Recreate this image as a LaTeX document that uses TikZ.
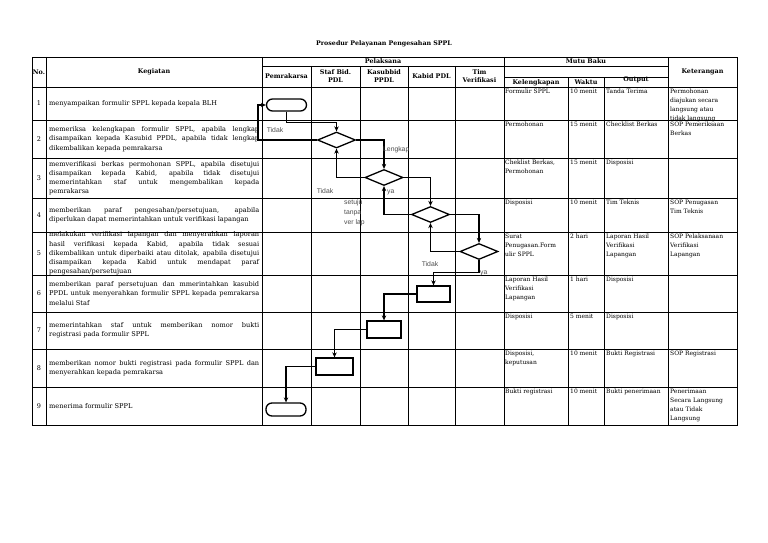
\documentclass[tikz,border=0pt]{standalone}
\usepackage{fontspec}
\setmainfont{DejaVu Serif}
\newfontfamily\flowfont{Liberation Sans}
\usetikzlibrary{positioning, arrows.meta, shapes.geometric}
\hyphenpenalty=10000
\exhyphenpenalty=10000
\tolerance=10000

\begin{document}
\begin{tikzpicture}[
  x=1pt, y=-1pt,
  grid/.style={line width=0.9pt},
  head/.style={font=\fontsize{6.4}{8}\selectfont\bfseries, align=center, inner sep=0pt},
  kegtext/.style={anchor=west, text width=210pt, align=justify, inner sep=0pt, font=\fontsize{6.6}{9.2}\selectfont},
  nomor/.style={font=\fontsize{6.5}{7}\selectfont, inner sep=0pt},
  cell/.style={anchor=north west, align=left, inner sep=0pt, font=\fontsize{6}{9.2}\selectfont},
  term/.style={draw, line width=1.3pt, rectangle, rounded corners=6pt, minimum width=40pt, minimum height=12pt, inner sep=0pt},
  decision/.style={draw, line width=1.3pt, diamond, minimum width=38pt, minimum height=16pt, inner sep=0pt},
  proc/.style={draw, line width=1.3pt, rectangle, minimum width=34pt, minimum height=17pt, inner sep=0pt},
  arrow/.style={-{Stealth[length=5pt, width=4.5pt]}, line width=1.2pt},
  flowlabel/.style={font=\flowfont\fontsize{6.8}{10}\selectfont, text=black!70, inner sep=0pt, align=left}
]
\useasboundingbox (0,0) rectangle (768,543);

% ===== TITLE =====
\node[font=\fontsize{6.3}{7}\selectfont\bfseries] (title) at (384,44) {Prosedur Pelayanan Pengesahan SPPL};

% ===== TABLE GRID =====
% Outer frame
\draw[grid] (32,57) rectangle (737,425);
% Header sub lines
\draw[grid] (262,66) -- (668,66);
\draw[grid] (504,77) -- (668,77);
% Row lines
\draw[grid] (32,87) -- (737,87) (32,120) -- (737,120) (32,158) -- (737,158)
  (32,198) -- (737,198) (32,232) -- (737,232) (32,275) -- (737,275)
  (32,312) -- (737,312) (32,349) -- (737,349) (32,387) -- (737,387);
% Column lines
\draw[grid] (46,57) -- (46,425) (262,57) -- (262,425) (504,57) -- (504,425) (668,57) -- (668,425);
\draw[grid] (311,66) -- (311,425) (360,66) -- (360,425) (408,66) -- (408,425) (455,66) -- (455,425);
\draw[grid] (568,77) -- (568,425) (604,77) -- (604,425);

% ===== HEADER =====
\node[head] (hno) at (39,72) {No.};
\node[head] (hkeg) at (154,72) {Kegiatan};
\node[head] (hpel) at (383,61.5) {Pelaksana};
\node[head] (hpem) at (286.5,76.5) {Pemrakarsa};
\node[head] (hstaf) at (335.5,76.5) {Staf Bid.\\PDL};
\node[head] (hkas) at (384,76.5) {Kasubbid\\PPDL};
\node[head] (hkab) at (431.5,76.5) {Kabid PDL};
\node[head] (htim) at (479.5,76.5) {Tim\\Verifikasi};
\node[head] (hmutu) at (586,61.5) {Mutu Baku};
\node[head] (hkel) at (536,82.5) {Kelengkapan};
\node[head] (hwak) at (586,82.5) {Waktu};
\node[head] (hout) at (636,80) {Output};
\node[head] (hket) at (702.5,72) {Keterangan};

% ===== NO. AND KEGIATAN =====
\node[nomor] (no1) at (39,103.5) {1};
\node[nomor] (no2) at (39,139) {2};
\node[nomor] (no3) at (39,178) {3};
\node[nomor] (no4) at (39,215) {4};
\node[nomor] (no5) at (39,253.5) {5};
\node[nomor] (no6) at (39,293.5) {6};
\node[nomor] (no7) at (39,330.5) {7};
\node[nomor] (no8) at (39,368) {8};
\node[nomor] (no9) at (39,406) {9};

\node[kegtext] (keg1) at (49,103.5) {menyampaikan formulir SPPL kepada kepala BLH};
\node[kegtext] (keg2) at (49,139) {memeriksa kelengkapan formulir SPPL, apabila lengkap\linebreak disampaikan kepada Kasubid PPDL, apabila tidak lengkap\linebreak dikembalikan kepada pemrakarsa};
\node[kegtext] (keg3) at (49,178) {memverifikasi berkas permohonan SPPL, apabila disetujui\linebreak disampaikan kepada Kabid, apabila tidak disetujui\linebreak memerintahkan staf untuk mengembalikan kepada\linebreak pemrakarsa};
\node[kegtext] (keg4) at (49,215) {memberikan paraf pengesahan/persetujuan, apabila\linebreak diperlukan dapat memerintahkan untuk verifikasi lapangan};
\node[kegtext] (keg5) at (49,253.5) {melakukan verifikasi lapangan dan menyerahkan laporan\linebreak hasil verifikasi kepada Kabid, apabila tidak sesuai\linebreak dikembalikan untuk diperbaiki atau ditolak, apabila disetujui\linebreak disampaikan kepada Kabid untuk mendapat paraf\linebreak pengesahan/persetujuan};
\node[kegtext] (keg6) at (49,293.5) {memberikan paraf persetujuan dan mmerintahkan kasubid\linebreak PPDL untuk menyerahkan formulir SPPL kepada pemrakarsa\linebreak melalui Staf};
\node[kegtext] (keg7) at (49,330.5) {memerintahkan staf untuk memberikan nomor bukti\linebreak registrasi pada formulir SPPL};
\node[kegtext] (keg8) at (49,368) {memberikan nomor bukti registrasi pada formulir SPPL dan\linebreak menyerahkan kepada pemrakarsa};
\node[kegtext] (keg9) at (49,406) {menerima formulir SPPL};

% ===== MUTU BAKU AND KETERANGAN =====
% Row 1
\node[cell] (kel1) at (505,88.5) {Formulir SPPL};
\node[cell] (wak1) at (570,88.5) {10 menit};
\node[cell] (out1) at (606,88.5) {Tanda Terima};
\node[cell] (ket1) at (670,88.5) {Permohonan\\diajukan secara\\langsung atau\\tidak langsung};
% Row 2
\node[cell] (kel2) at (505,121.5) {Permohonan};
\node[cell] (wak2) at (570,121.5) {15 menit};
\node[cell] (out2) at (606,121.5) {Checklist Berkas};
\node[cell] (ket2) at (670,121.5) {SOP Pemeriksaan\\Berkas};
% Row 3
\node[cell] (kel3) at (505,159.5) {Cheklist Berkas,\\Permohonan};
\node[cell] (wak3) at (570,159.5) {15 menit};
\node[cell] (out3) at (606,159.5) {Disposisi};
% Row 4
\node[cell] (kel4) at (505,199.5) {Disposisi};
\node[cell] (wak4) at (570,199.5) {10 menit};
\node[cell] (out4) at (606,199.5) {Tim Teknis};
\node[cell] (ket4) at (670,199.5) {SOP Penugasan\\Tim Teknis};
% Row 5
\node[cell] (kel5) at (505,233.5) {Surat\\Penugasan.Form\\ulir SPPL};
\node[cell] (wak5) at (570,233.5) {2 hari};
\node[cell] (out5) at (606,233.5) {Laporan Hasil\\Verifikasi\\Lapangan};
\node[cell] (ket5) at (670,233.5) {SOP Pelaksanaan\\Verifikasi\\Lapangan};
% Row 6
\node[cell] (kel6) at (505,276.5) {Laporan Hasil\\Verifikasi\\Lapangan};
\node[cell] (wak6) at (570,276.5) {1 hari};
\node[cell] (out6) at (606,276.5) {Disposisi};
% Row 7
\node[cell] (kel7) at (505,313.5) {Disposisi};
\node[cell] (wak7) at (570,313.5) {5 menit};
\node[cell] (out7) at (606,313.5) {Disposisi};
% Row 8
\node[cell] (kel8) at (505,350.5) {Disposisi,\\keputusan};
\node[cell] (wak8) at (570,350.5) {10 menit};
\node[cell] (out8) at (606,350.5) {Bukti Registrasi};
\node[cell] (ket8) at (670,350.5) {SOP Registrasi};
% Row 9
\node[cell] (kel9) at (505,388.5) {Bukti registrasi};
\node[cell] (wak9) at (570,388.5) {10 menit};
\node[cell] (out9) at (606,388.5) {Bukti penerimaan};
\node[cell] (ket9) at (670,388.5) {Penerimaan\\Secara Langsung\\atau Tidak\\Langsung};

% ===== FLOW SYMBOLS =====
\node[term] (start) at (286.5,105) {};
\node[decision] (cek) at (336.5,140) {};
\node[decision] (verif) at (384,177.5) {};
\node[decision] (paraf) at (430.5,214.5) {};
\node[decision] (lap) at (479,251.5) {};
\node[proc, minimum width=33pt, minimum height=16pt] (setuju) at (433.5,294) {};
\node[proc] (perintah) at (384,329.5) {};
\node[proc, minimum width=37pt] (noreg) at (334.5,366.5) {};
\node[term, minimum height=13pt] (terima) at (286,409.5) {};
\coordinate (balik) at (258,140);

% ===== CONNECTORS =====
\draw[arrow] (start.south) -- ++(0,11) -| (cek.north);
\draw[arrow] (cek.west) -- (balik) |- (start.west);
\draw[arrow] (cek.east) -| (verif.north);
\draw[arrow] (verif.west) -| (cek.south);
\draw[arrow] (verif.east) -| (paraf.north);
\draw[arrow] (paraf.west) -| (verif.south);
\draw[arrow] (paraf.east) -| (lap.north);
\draw[arrow] (lap.west) -| (paraf.south);
\draw[arrow] (lap.south) -- ++(0,12) -| (setuju.north);
\draw[arrow] (setuju.west) -| (perintah.north);
\draw[arrow] (perintah.west) -| (noreg.north);
\draw[arrow] (noreg.west) -| (terima.north);

% ===== FLOW LABELS =====
\node[flowlabel] (lbltidak1) at (275,130) {Tidak};
\node[flowlabel, anchor=west] (lbllengkap) at (383,150) {Lengkap};
\node[flowlabel] (lbltidak2) at (325,191) {Tidak};
\node[flowlabel, anchor=west] (lblya1) at (387,192) {ya};
\node[flowlabel, anchor=west] (lblsetuju) at (344,213) {setuju\\tanpa\\ver lap};
\node[flowlabel] (lbltidak3) at (430,264) {Tidak};
\node[flowlabel, anchor=west] (lblya2) at (480,273) {ya};

\end{tikzpicture}
\end{document}
